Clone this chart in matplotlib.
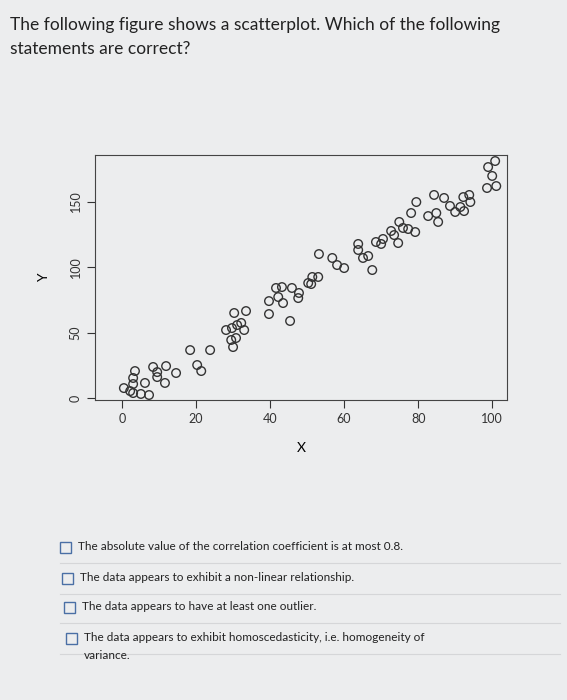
import matplotlib.pyplot as plt
from matplotlib.patches import Rectangle

x_vals = [0.5, 2.2, 3.0, 5.1, 7.3, 3.0, 3.0, 3.5, 6.2, 8.4, 9.5, 9.5, 11.6, 11.9, 14.6,
          18.4, 20.3, 21.4, 23.8, 30.3, 33.5, 28.1, 29.7, 31.1, 32.2, 33.0, 29.5, 30.8, 30.0,
          39.7, 39.7, 41.6, 43.2, 45.9, 42.2, 43.5, 45.4, 47.8, 47.6, 50.3, 51.4, 53.0, 51.1,
          53.2, 56.8, 58.1, 60.0, 63.8, 63.8, 65.1, 66.5, 67.6, 68.6, 70.5, 70.0, 72.7, 73.5,
          74.6, 74.9, 75.9, 77.3, 79.2, 78.1, 79.5, 82.7, 84.3, 84.9, 85.4, 87.0, 88.6, 90.0,
          91.4, 92.4, 92.2, 93.8, 94.1, 98.6, 98.9, 100.8, 100.0, 101.1]
y_vals = [7.6, 5.3, 3.8, 3.1, 2.3, 10.7, 15.3, 20.6, 11.5, 23.7, 19.8, 16.0, 11.5, 24.4, 19.1,
          36.6, 25.2, 20.6, 36.6, 64.9, 66.4, 51.9, 53.4, 55.7, 57.3, 51.9, 44.3, 45.8, 38.9,
          74.0, 64.1, 84.0, 84.7, 84.0, 77.1, 72.5, 58.8, 80.2, 76.3, 87.8, 92.4, 92.4, 87.0,
          109.9, 106.9, 101.5, 99.2, 117.6, 113.0, 106.9, 108.4, 97.7, 119.1, 121.4, 117.6, 127.5, 124.4,
          118.3, 134.4, 129.8, 129.0, 126.7, 141.2, 149.6, 138.9, 155.0, 141.2, 134.4, 152.7, 146.6, 142.0,
          145.8, 142.7, 153.4, 155.0, 149.6, 160.3, 176.3, 180.9, 169.5, 161.8]
x_ticks = [0, 20, 40, 60, 80, 100]
y_ticks = [0, 50, 100, 150]
title = "The following figure shows a scatterplot. Which of the following\nstatements are correct?"
options = [
    "The absolute value of the correlation coefficient is at most 0.8.",
    "The data appears to exhibit a non-linear relationship.",
    "The data appears to have at least one outlier.",
    "The data appears to exhibit homoscedasticity, i.e. homogeneity of\nvariance.",
]

plt.rcParams['font.family'] = ['Lato', 'DejaVu Sans']
fig = plt.figure(figsize=(5.67, 7.0), dpi=100, facecolor='#ecedee')

fig.text(10/567, 1 - 17/700, title, fontsize=12.5, color='#222222', va='top', ha='left',
         linespacing=1.6)

ax = fig.add_axes([95/567, 300/700, 412/567, 245/700])
ax.set_facecolor('#ecedee')
ax.scatter(x_vals, y_vals, s=38, facecolors='none', edgecolors='#333333', linewidths=1.0)
ax.set_xlim(-7.3, 104)
ax.set_ylim(-1.5, 185.5)
ax.set_xticks(x_ticks)
ax.set_yticks(y_ticks)
ax.set_yticklabels([str(v) for v in y_ticks], rotation=90, va='center')
ax.tick_params(labelsize=9, colors='#333333', length=6)
for s in ax.spines.values():
    s.set_color('#444444')
ax.set_xlabel('X', fontsize=10, labelpad=12)
ax.set_ylabel('Y', fontsize=10, labelpad=14)

ys = [547, 578, 607, 638]
for i, (yy, txt) in enumerate(zip(ys, options)):
    bx = 60 + i * 2
    fig.patches.append(Rectangle((bx/567, 1 - (yy + 6)/700), 11/567, 11/700,
                                 transform=fig.transFigure, fill=False,
                                 edgecolor='#4a6fa5', linewidth=1.0))
    fig.text((bx + 18)/567, 1 - (yy - 6)/700, txt, fontsize=8.5, color='#222222',
             va='top', ha='left', linespacing=1.8)
    fig.add_artist(plt.Line2D([60/567, 560/567], [1 - (yy + 16)/700] * 2,
                              color='#d5d6d8', linewidth=0.8))

fig.savefig('out.png', dpi=100, facecolor=fig.get_facecolor())
